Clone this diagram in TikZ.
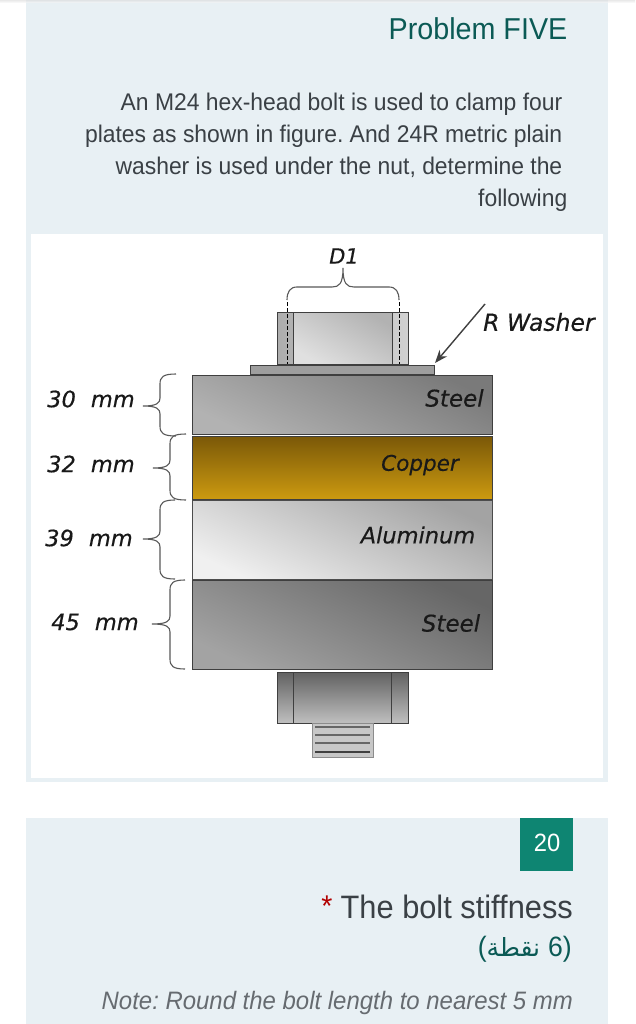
\documentclass[tikz,border=0pt]{standalone}
\usetikzlibrary{arrows.meta}
\usepackage{fontspec}
\setmainfont[FakeStretch=0.95]{Liberation Sans}
\newfontfamily\handfont{DejaVu Sans Oblique}[FakeBold=0.4]
\newfontfamily\arabicfont[Script=Arabic]{DejaVu Sans}
\TeXXeTstate=1
\frenchspacing
\definecolor{panelbg}{HTML}{E8F0F4}
\definecolor{badge}{HTML}{0E8572}
\definecolor{titleteal}{HTML}{0B5A55}
\definecolor{bodytxt}{HTML}{3A4045}
\definecolor{notetxt}{HTML}{666B70}
\definecolor{edge}{HTML}{3F3F3F}
\definecolor{copperT}{HTML}{7A5808}
\definecolor{copperM}{HTML}{B0840A}
\definecolor{copperB}{HTML}{CC9A10}
\newcommand{\mybrace}[6]{%
 % xend xspine xtip ytop ytip ybot
 \draw[bracel] (#1,#4) .. controls (#2+3,#4) and (#2,#4+3) .. (#2,#4+10)
   -- (#2,#5-8) .. controls (#2,#5-3) and (#2-3,#5) .. (#3,#5)
   .. controls (#2-3,#5) and (#2,#5+3) .. (#2,#5+8)
   -- (#2,#6-10) .. controls (#2,#6-3) and (#2+3,#6) .. (#1,#6);}
\tikzset{
 x=1pt,y=-1pt,
 para/.style={anchor=base east,inner sep=0pt,font=\fontsize{24.1}{24}\selectfont,text=bodytxt},
 hand/.style={inner sep=0pt,font=\handfont\fontsize{22.5}{22.5}\selectfont,text=black!90},
 bracel/.style={draw=black!65,line width=1.1pt},
 plate/.style={draw=edge,line width=1pt},
 part/.style={draw=edge,line width=1pt},
 thread/.style={draw=black!60,line width=1.3pt},
}
\begin{document}
\begin{tikzpicture}
\useasboundingbox (0,0) rectangle (635,1024);
\fill[white] (0,0) rectangle (635,1024);
\fill[panelbg] (26,0) rectangle (608,782);
\fill[panelbg] (26,818) rectangle (608,1024);
\fill[white] (31,234) rectangle (603,778);
\shade[top color=black!14,bottom color=black!0,opacity=0.6] (0,0) rectangle (635,3);
% header text
\node[para,text=titleteal,font=\fontsize{30.2}{30}\selectfont] (title) at (567.5,40) {Problem FIVE};
\node[para] (l1) at (562.5,111) {An M24 hex-head bolt is used to clamp four};
\node[para] (l2) at (562.5,143) {plates as shown in figure. And 24R metric plain};
\node[para] (l3) at (562.5,175) {washer is used under the nut, determine the};
\node[para] (l4) at (567.5,207) {following};
% plates
\shade[plate,top color=black!52,bottom color=black!30,shading angle=-25] (192,375) rectangle (492,434);
\shade[plate,top color=copperT,middle color=copperM,bottom color=copperB] (192,436) rectangle (492,499);
\shade[plate,draw=black!70,top color=black!36,bottom color=black!6,shading angle=-25] (192,500) rectangle (492,579);
\shade[plate,top color=black!60,bottom color=black!36,shading angle=-25] (192,580) rectangle (492,669);
% washer
\fill[black!38,draw=edge,line width=1pt] (250,365) rectangle (434,374);
% nut
\shade[part,left color=black!32,right color=black!18] (277,312) rectangle (408,364);
\shade[part,top color=black!30,bottom color=black!12,shading angle=-30] (293,312) rectangle (392,364);
\draw[black,line width=1pt,dash pattern=on 3.5pt off 2.5pt] (287,302) -- (287,364);
\draw[black,line width=1pt,dash pattern=on 3.5pt off 2.5pt] (399,302) -- (399,364);
% D1 brace
\draw[bracel] (287,300) .. controls (287,292) and (290,287) .. (297,287)
 -- (332,287) .. controls (339,287) and (343,284) .. (343,268)
 .. controls (343,284) and (347,287) .. (354,287)
 -- (389,287) .. controls (396,287) and (399,292) .. (399,300);
\node[hand,font=\handfont\fontsize{21}{21}\selectfont] (d1) at (344,256) {D1};
% washer arrow
\coordinate (tip) at (435,363);
\coordinate (tail) at (485,304);
\draw[-{Stealth[length=13pt,width=10pt]},black!75,line width=1.4pt] (tail) -- (tip);
\node[hand,anchor=west,font=\handfont\fontsize{23.5}{23.5}\selectfont] (rw) at (483,322) {R Washer};
% material labels
\node[hand,font=\handfont\fontsize{23}{23}\selectfont] (s1) at (454.5,398) {Steel};
\node[hand,font=\handfont\fontsize{21.5}{21.5}\selectfont] (cu) at (420,465) {Copper};
\node[hand] (al) at (418,535) {Aluminum};
\node[hand,font=\handfont\fontsize{23}{23}\selectfont] (s2) at (451,623) {Steel};
% braces and dimensions
\mybrace{176}{160}{143}{374}{406}{436}
\mybrace{186}{170}{153}{434}{468}{500}
\mybrace{175}{160}{143}{500}{539}{579}
\mybrace{185}{170}{152}{580}{624}{669}
\node[hand] (a) at (91,399) {30\hspace{15pt}mm};
\node[hand] (b) at (91,464) {32\hspace{15pt}mm};
\node[hand] (c) at (89,538) {39\hspace{15pt}mm};
\node[hand] (e) at (95,622) {45\hspace{15pt}mm};
% bolt head
\shade[part,top color=black!62,bottom color=black!25] (277,672) rectangle (408,723);
\draw[part] (293,672) -- (293,723);
\draw[part] (391,672) -- (391,723);
\fill[black!22,draw=black!45,line width=0.8pt] (312,723) rectangle (373,757);
\draw[thread] (315,727) -- (370,727);
\draw[thread,line width=1.8pt] (315,735) -- (370,735);
\draw[thread] (315,743) -- (370,743);
\draw[thread,draw=black!75] (315,752) -- (370,752);
% lower panel
\fill[badge] (520,818) rectangle (573,871);
\node[inner sep=0pt,text=white,font=\fontsize{25}{25}\selectfont] (pts) at (547,843) {20};
\node[para,font=\fontsize{32.4}{32}\selectfont] (q) at (573,918) {The bolt stiffness};
\node[inner sep=0pt,text=red!70!black,font=\fontsize{30}{30}\selectfont] (star) at (327,906) {*};
\node[para,text=titleteal,font=\fontsize{28}{28}\selectfont] (pp) at (572,956) {(\arabicfont\fontsize{25}{25}\selectfont\beginR نقطة\endR\ \normalfont\fontsize{28}{28}\selectfont 6)};
\node[para,text=notetxt,font=\itshape\fontsize{25.2}{25}\selectfont] (note) at (573,1009) {Note: Round the bolt length to nearest 5 mm};
\end{tikzpicture}
\end{document}
